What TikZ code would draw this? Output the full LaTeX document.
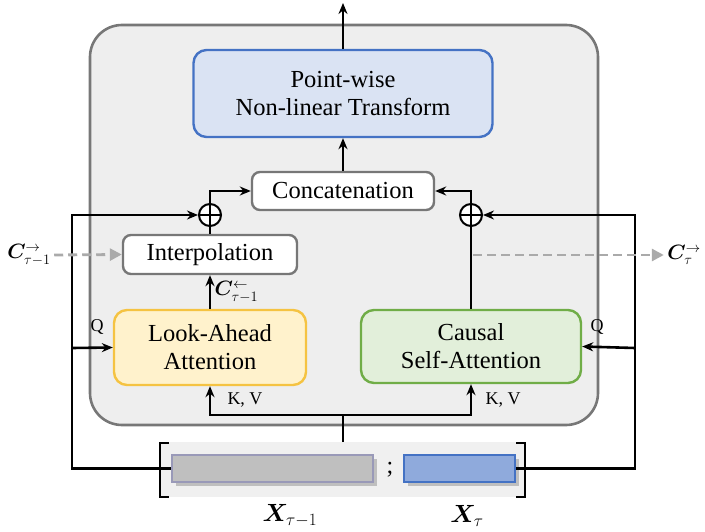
\documentclass[tikz,border=0pt]{standalone}
\usepackage{amsmath,bm}
\usepackage{fontspec}
\setmainfont{Liberation Serif}
\usetikzlibrary{arrows.meta}
\definecolor{outerg}{HTML}{EEEEEE}
\definecolor{outerb}{HTML}{777777}
\definecolor{tfill}{HTML}{DAE3F3}
\definecolor{tbord}{HTML}{4472C4}
\definecolor{yfill}{HTML}{FFF2CC}
\definecolor{ybord}{HTML}{F5C342}
\definecolor{gfill}{HTML}{E2EFDA}
\definecolor{gbord}{HTML}{70AD47}
\definecolor{dashg}{HTML}{AAAAAA}
\begin{document}
\begin{tikzpicture}[x=1pt,y=-1pt,
  box/.style={draw=outerb,line width=2.4pt,rounded corners=8pt,fill=white,inner sep=0},
  conn/.style={line width=2.6pt,-{Stealth[length=11pt,width=9pt]}},
  ln/.style={line width=2.6pt},
  dsh/.style={dashg,line width=2.8pt,dash pattern=on 9pt off 5pt,-{Triangle[length=12pt,width=12pt]}},
  plus/.style={circle,draw,line width=2pt,minimum size=22pt,inner sep=0,fill=white,
    path picture={\draw[line width=1.8pt] (path picture bounding box.north) -- (path picture bounding box.south) (path picture bounding box.west) -- (path picture bounding box.east);}},
  txt/.style={font=\fontsize{24.5}{28}\selectfont,align=center},
  lab/.style={font=\fontsize{18}{20}\selectfont}]
\useasboundingbox (0,0) rectangle (705,532);
\draw[outerb,fill=outerg,line width=2.6pt,rounded corners=32pt] (90,25) rectangle (598,425);
\node[box,draw=tbord,fill=tfill,rounded corners=13pt,minimum width=299pt,minimum height=87pt,txt] (tr) at (343,93.5) {Point-wise\\Non-linear Transform};
\node[box,minimum width=182pt,minimum height=38pt,txt] (cat) at (343,191) {Concatenation};
\node[plus] (pl) at (210,215) {};
\node[plus] (pr) at (471,215) {};
\node[box,minimum width=174pt,minimum height=39pt,txt] (int) at (210,254.5) {Interpolation};
\node[box,draw=ybord,fill=yfill,rounded corners=13pt,minimum width=192pt,minimum height=75pt,txt] (la) at (210,347.5) {Look-Ahead\\Attention};
\node[box,draw=gbord,fill=gfill,rounded corners=13pt,minimum width=220pt,minimum height=73pt,txt] (cs) at (471,346.5) {Causal\\Self-Attention};
\coordinate (top) at (343,3);
\draw[conn] (tr.north) -- (top);
\draw[conn] (cat.north) -- (tr.south);
\draw[conn] (pl.north) |- (cat.west);
\draw[conn] (pr.north) |- (cat.east);
\draw[ln] (int.north) -- (pl.south);
\draw[conn] (la.north) -- node[right,font=\fontsize{20}{22}\selectfont]{$\bm{C}^{\leftarrow}_{\tau-1}$} (int.south);
\draw[ln] (cs.north) -- (pr.south);
% bottom
\fill[black!6] (160,442) rectangle (525,497);
\draw[line width=2pt] (169,443) -- (160,443) -- (160,497) -- (169,497);
\draw[line width=2pt] (516,443) -- (525,443) -- (525,497) -- (516,497);
\fill[black!25] (176,459) rectangle (377,486);
\fill[black!25] (408,459) rectangle (519,486);
\node[draw=black!70!blue!40,line width=2.6pt,fill=black!25,minimum width=201pt,minimum height=27pt,inner sep=0] (xa) at (272.5,468.5) {};
\node[draw=tbord,line width=2.6pt,fill=tbord!60,minimum width=111pt,minimum height=27pt,inner sep=0] (xb) at (459.5,468.5) {};
\node[font=\fontsize{24}{26}\selectfont] (semi) at (390,470) {;};
\node[font=\fontsize{23}{25}\selectfont] (lxa) at (290,516) {$\bm{X}_{\tau-1}$};
\node[font=\fontsize{23}{25}\selectfont] (lxb) at (467,516) {$\bm{X}_{\tau}$};
% loops
\coordinate (lb) at (72,348);
\coordinate (rb) at (635,348);
\draw[conn] (xa.west) -| (72,215) -- (pl.west);
\draw[conn] (lb) -- (la.west);
\node[lab] (ql) at (97,327) {Q};
\draw[conn] (xb.east) -| (635,215) -- (pr.east);
\draw[conn] (rb) -- (cs.east);
\node[lab] (qr) at (597,327) {Q};
% K,V
\coordinate (kv) at (343,415);
\draw[ln] (343,442) -- (kv);
\draw[conn] (kv) -| (la.south);
\draw[conn] (kv) -| (cs.south);
\node[lab] (kv1) at (245,400) {K, V};
\node[lab] (kv2) at (503,400) {K, V};
% dashed
\node[font=\fontsize{20}{22}\selectfont] (cin) at (29,255) {$\bm{C}^{\rightarrow}_{\tau-1}$};
\node[font=\fontsize{20}{22}\selectfont] (cout) at (684,255) {$\bm{C}^{\rightarrow}_{\tau}$};
\draw[dsh] (cin.east) -- (int.west);
\coordinate (cs1) at (473,255);
\draw[dsh] (cs1) -- (cout.west);
\end{tikzpicture}
\end{document}
